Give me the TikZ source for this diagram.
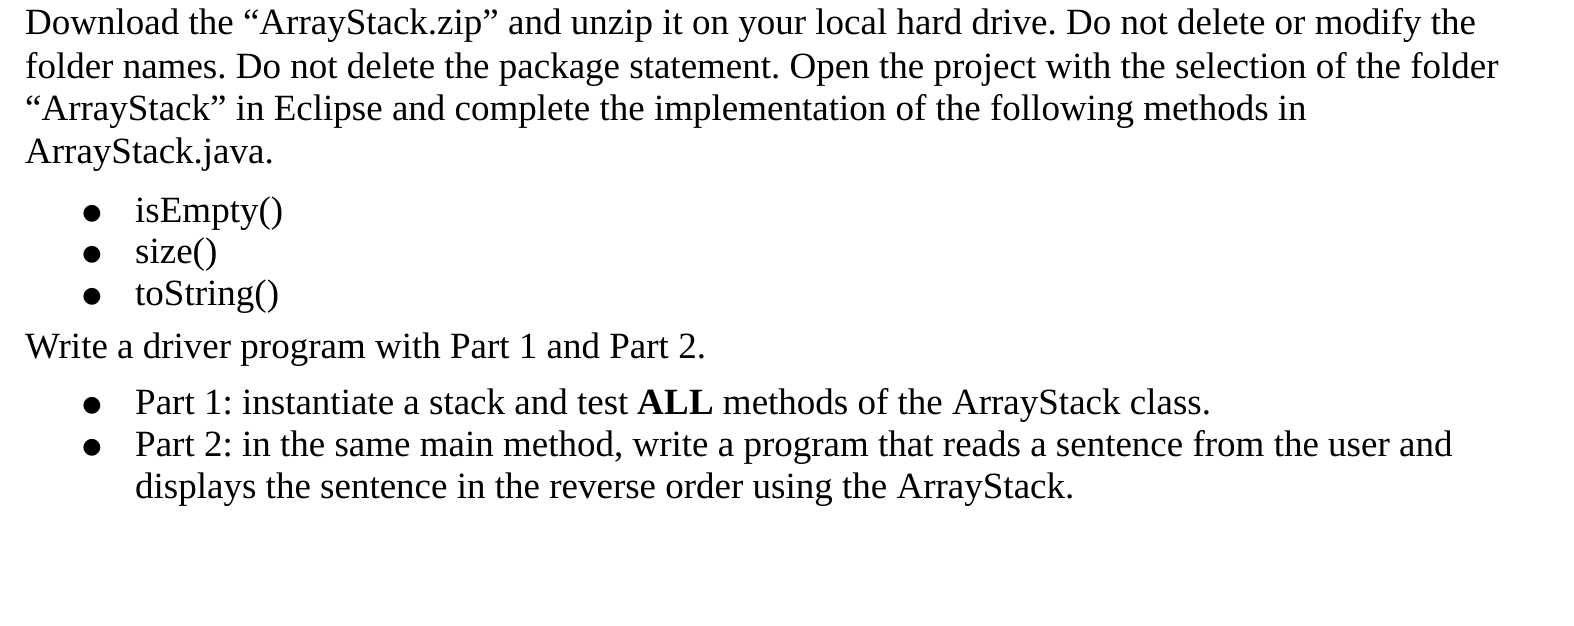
\documentclass[tikz,border=0pt]{standalone}
\usepackage{fontspec}
\setmainfont{Liberation Serif}
\newfontfamily\symf{DejaVu Sans}
\frenchspacing
\begin{document}
\begin{tikzpicture}[x=1pt,y=1pt,
  ln/.style={anchor=base west,inner sep=0pt,font=\fontsize{37}{37}\selectfont},
  bul/.style={anchor=base,inner sep=0pt,font=\fontsize{22}{22}\symf}]
\useasboundingbox[fill=white] (0,0) rectangle (1574,-626);
\node[ln] (l1) at (25,-35) {Download the “ArrayStack.zip” and unzip it on your local hard drive. Do not delete or modify the};
\node[ln] (l2) at (25,-78) {folder names. Do not delete the package statement. Open the project with the selection of the folder};
\node[ln] (l3) at (25,-120) {“ArrayStack” in Eclipse and complete the implementation of the following methods in};
\node[ln] (l4) at (25,-163) {ArrayStack.java.};
\node[bul] (b1) at (92,-219) {●};
\node[ln] (m1) at (135,-222) {isEmpty()};
\node[bul] (b2) at (92,-260) {●};
\node[ln] (m2) at (135,-263) {size()};
\node[bul] (b3) at (92,-302) {●};
\node[ln] (m3) at (135,-305) {toString()};
\node[ln] (w) at (25,-358) {Write a driver program with Part 1 and Part 2.};
\node[bul] (b4) at (92,-411) {●};
\node[ln] (p1) at (135,-414) {Part 1: instantiate a stack and test \textbf{ALL} methods of the ArrayStack class.};
\node[bul] (b5) at (92,-453) {●};
\node[ln] (p2) at (135,-456) {Part 2: in the same main method, write a program that reads a sentence from the user and};
\node[ln] (p3) at (135,-498) {displays the sentence in the reverse order using the ArrayStack.};
\end{tikzpicture}
\end{document}
